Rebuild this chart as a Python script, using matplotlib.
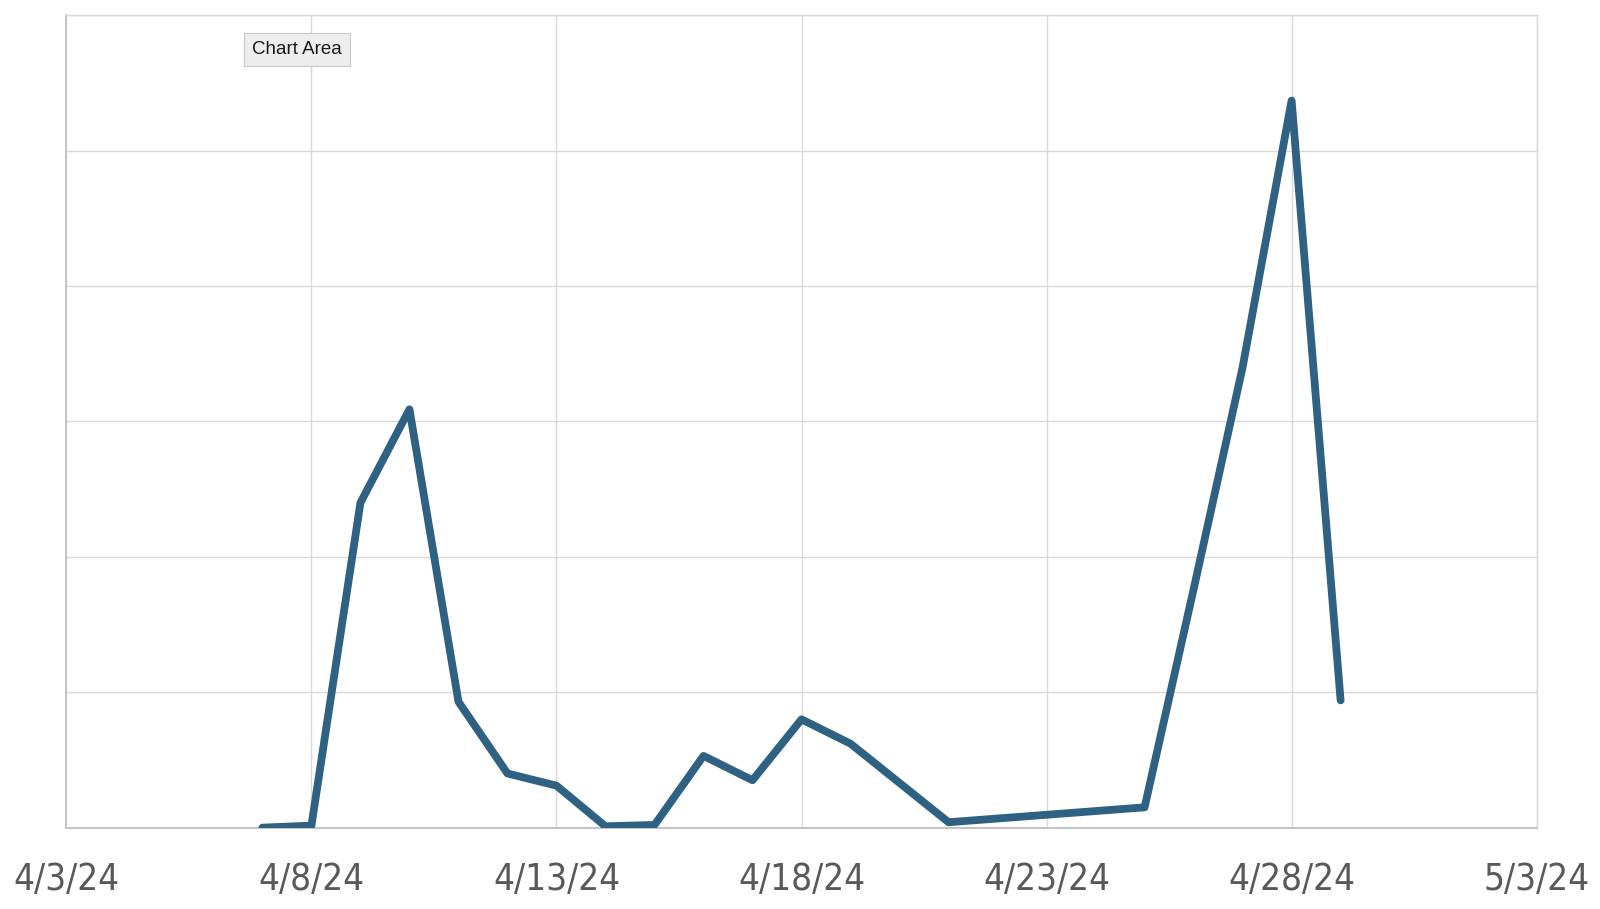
import matplotlib
matplotlib.use("Agg")
import matplotlib.pyplot as plt
from matplotlib import font_manager
import datetime as dt

dates = ["2024-04-07", "2024-04-08", "2024-04-09", "2024-04-10", "2024-04-11",
         "2024-04-12", "2024-04-13", "2024-04-14", "2024-04-15", "2024-04-16",
         "2024-04-17", "2024-04-18", "2024-04-19", "2024-04-21", "2024-04-25",
         "2024-04-26", "2024-04-27", "2024-04-28", "2024-04-29"]
values = [0.00, 0.015, 2.40, 3.09, 0.93, 0.40, 0.31, 0.01, 0.02, 0.53,
          0.35, 0.80, 0.62, 0.04, 0.15, 1.76, 3.40, 5.37, 0.94]
tick_labels = ["4/3/24", "4/8/24", "4/13/24", "4/18/24", "4/23/24", "4/28/24", "5/3/24"]
tick_dates = ["2024-04-03", "2024-04-08", "2024-04-13", "2024-04-18",
              "2024-04-23", "2024-04-28", "2024-05-03"]

condensed = [f for f in font_manager.fontManager.ttflist
             if "DejaVu Sans" in f.name and "ondensed" in f.fname and "Bold" not in f.fname
             and "Oblique" not in f.fname]
if condensed:
    tick_prop = font_manager.FontProperties(fname=condensed[0].fname, size=26.5)
else:
    tick_prop = font_manager.FontProperties(family="DejaVu Sans", stretch="condensed", size=26.5)

x = [dt.datetime.strptime(d, "%Y-%m-%d") for d in dates]
tx = [dt.datetime.strptime(d, "%Y-%m-%d") for d in tick_dates]

fig = plt.figure(figsize=(16, 9.09), dpi=100)
ax = fig.add_axes([0.0415, 0.0895, 0.9189, 0.8937])

ax.plot(x, values, color="#2E6182", linewidth=5.6, solid_capstyle="round",
        solid_joinstyle="round", zorder=3)

ax.set_xlim(tx[0], tx[-1])
ax.set_ylim(0, 6)
ax.set_xticks(tx)
ax.set_xticklabels(tick_labels, color="#595959", fontproperties=tick_prop)
ax.set_yticks([0, 1, 2, 3, 4, 5, 6])
ax.set_yticklabels([])
ax.tick_params(axis="both", length=0)
ax.tick_params(axis="x", pad=24)
ax.grid(True, color="#d9d9d9", linewidth=1.0, zorder=0)
for s in ax.spines.values():
    s.set_color("#d9d9d9")
    s.set_linewidth(1.0)
ax.spines["bottom"].set_color("#c4c4c4")
ax.spines["bottom"].set_linewidth(1.5)
ax.spines["left"].set_color("#c4c4c4")
ax.spines["left"].set_linewidth(1.3)

fig.text(0.1855, 0.9455, "Chart Area", fontsize=13.5, color="#1a1a1a",
         ha="center", va="center", family="Liberation Sans",
         bbox=dict(boxstyle="square,pad=0.42", facecolor="#ededed",
                   edgecolor="#c8c8c8", linewidth=0.8))

fig.savefig("out.png", dpi=100, facecolor="white")
